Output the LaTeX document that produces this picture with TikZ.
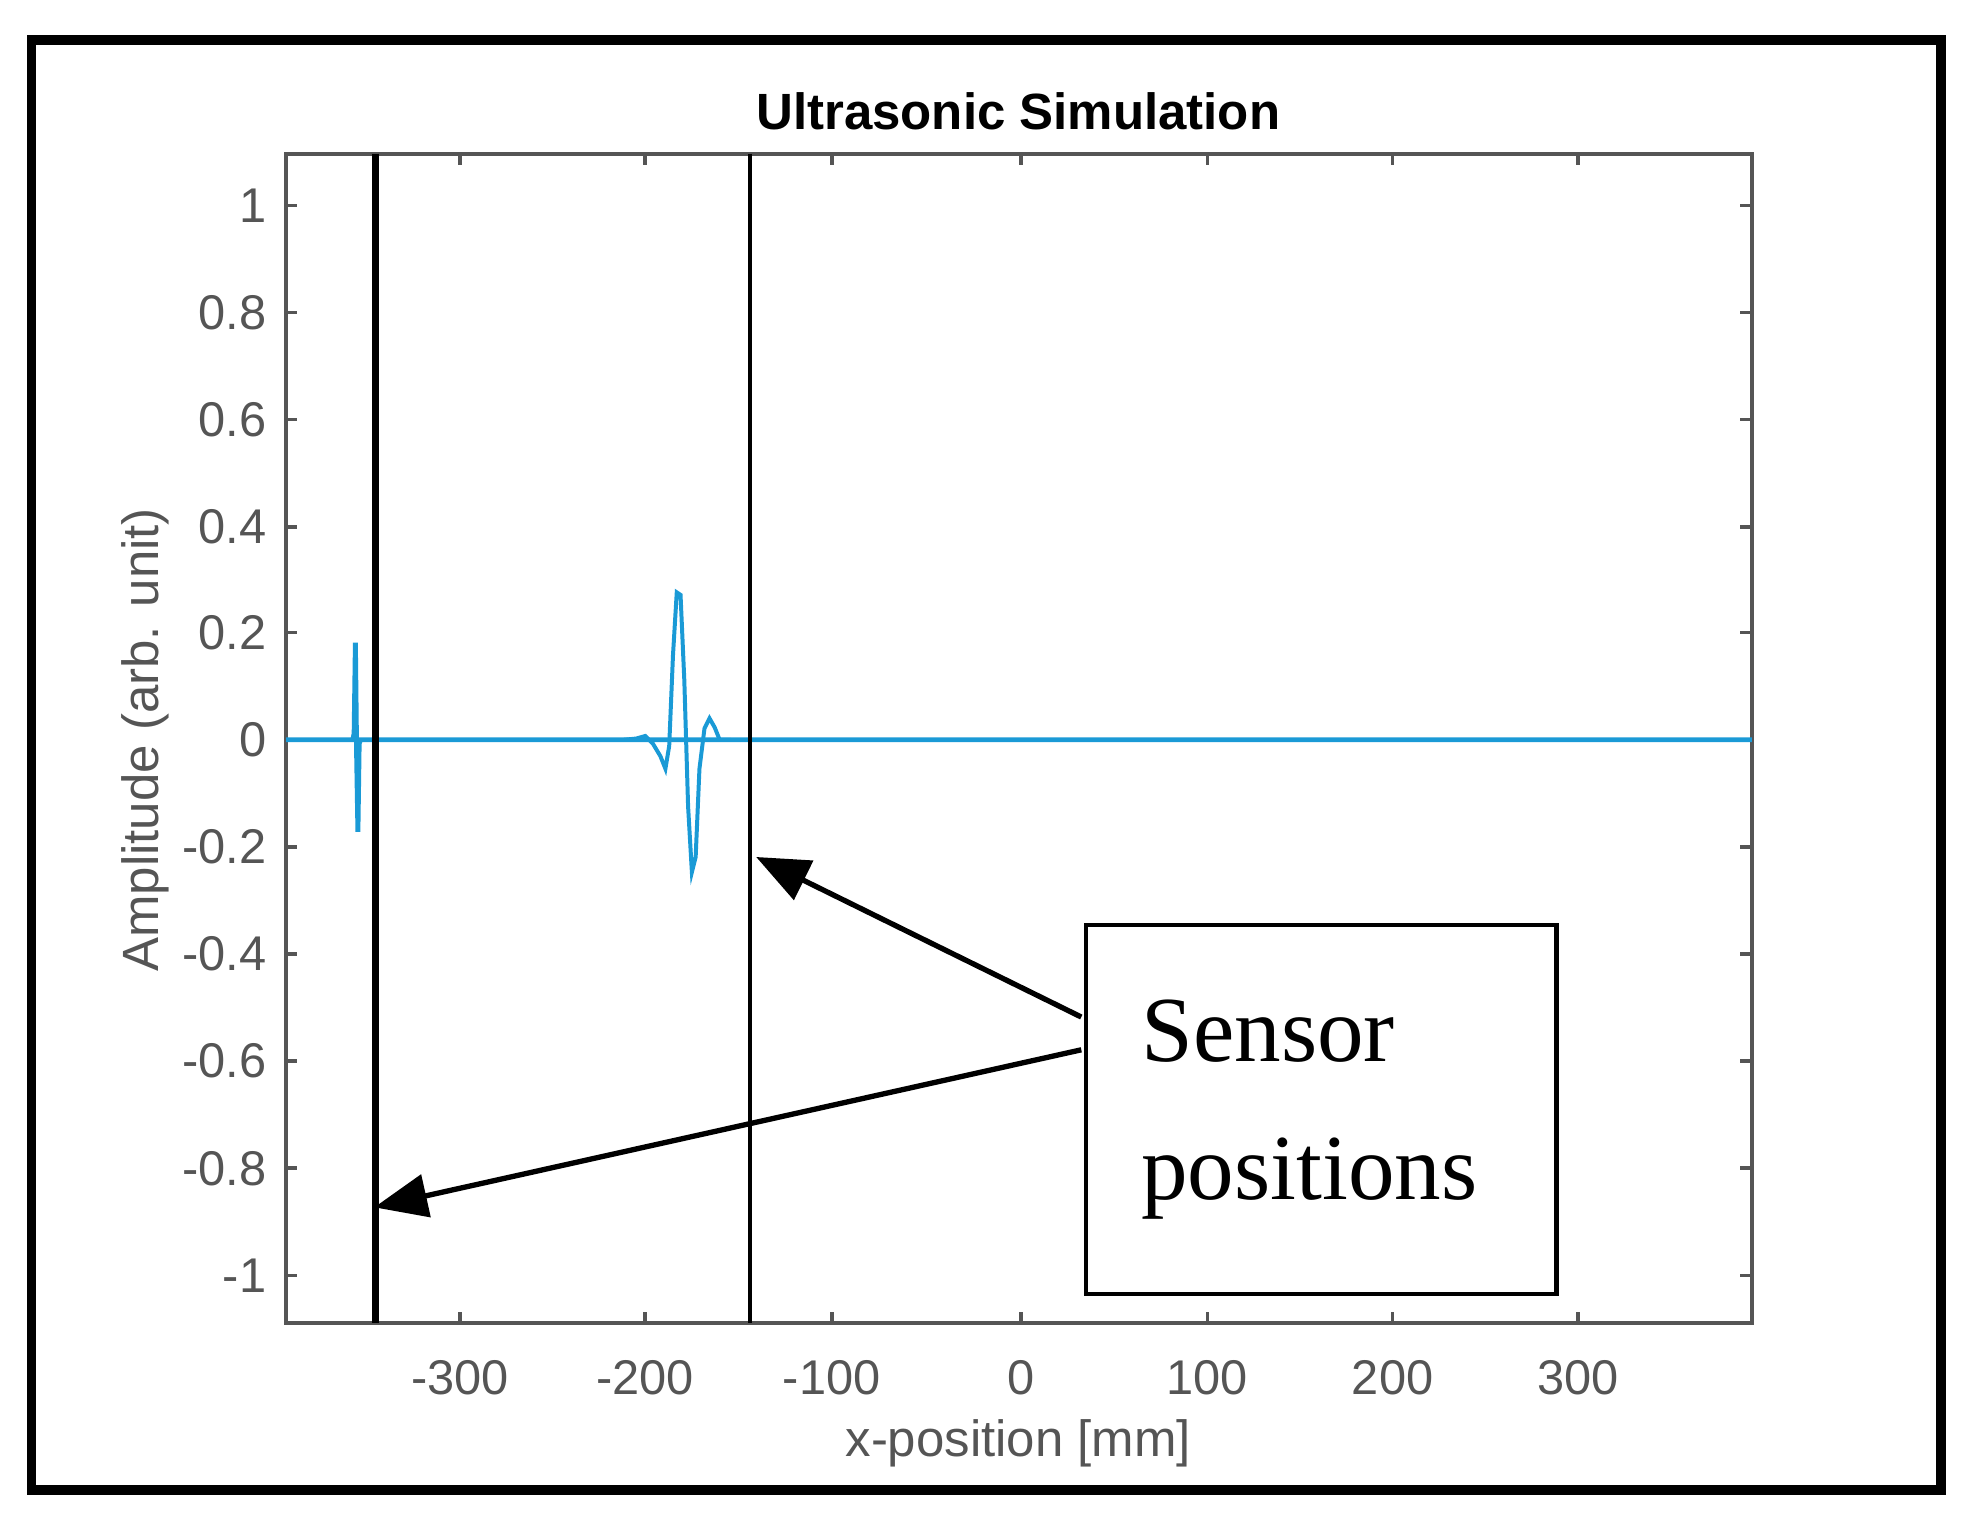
\documentclass[tikz,border=0pt]{standalone}
\usepackage{fontspec}
\setmainfont{Liberation Sans}
\newfontfamily\serifx{Liberation Serif}
\usetikzlibrary{arrows.meta}
\definecolor{axgray}{HTML}{555555}
\definecolor{sig}{HTML}{1A9AD6}
\begin{document}
\begin{tikzpicture}[x=0.01cm,y=-0.01cm,
  ticklab/.style={text=axgray,font=\fontsize{11}{13}\selectfont,inner sep=0pt},
  annarrow/.style={draw=black,line width=1.2pt,-{Triangle[length=0.42cm,width=0.34cm]}},
  sensor/.style={line width=1pt,black}]
\useasboundingbox (0,0) rectangle (1560,1200);
\draw[line width=2.2pt] (25,32) rectangle (1540,1182);
% axes
\draw[axgray,line width=1pt] (227,122) rectangle (1390,1050);
\foreach \v/\px in {-300/365,-200/512,-100/660,0/810,100/958,200/1105,300/1252}{
  \draw[axgray,line width=0.8pt] (\px,1050) -- (\px,1041) (\px,122) -- (\px,131);
  \node[ticklab] at (\px,1093) {\v};}
\foreach \v/\py in {1/163,0.8/248,0.6/333,0.4/418,0.2/502,0/587,-0.2/672,-0.4/757,-0.6/842,-0.8/927,-1/1012}{
  \draw[axgray,line width=0.8pt] (227,\py) -- (236,\py) (1390,\py) -- (1381,\py);
  \node[ticklab,anchor=east] at (212,\py) {\v};}
\node[text=axgray,font=\fontsize{11.5}{13}\selectfont] (xl) at (808,1145) {x-position [mm]};
\node[text=axgray,font=\fontsize{11.5}{13}\selectfont,rotate=90] (yl) at (115,587) {Amplitude (arb. unit)};
\node[font=\bfseries\fontsize{11.5}{13}\selectfont] (title) at (808,88) {Ultrasonic Simulation};
% signal
\draw[sig,line width=1.1pt] (227,587) -- (280,587) -- (281,582) -- (282,510) -- (283,600) -- (284,660) -- (285,590) -- (286,587) -- (1390,587);
\draw[sig,line width=0.9pt] (495,587) -- (505,586) -- (512,584) -- (518,590) -- (524,600) -- (528,610) -- (531,592) -- (534,520) -- (537,470) -- (540,472) -- (543,540) -- (546,640) -- (549,692) -- (552,680) -- (555,610) -- (559,578) -- (563,570) -- (567,577) -- (571,587) -- (580,587);
% sensor lines
\coordinate (s1t) at (298,122); \coordinate (s1b) at (298,1050);
\coordinate (s2t) at (595,122); \coordinate (s2b) at (595,1050);
\draw[sensor,line width=1.6pt] (s1t) -- (s1b);
\draw[sensor] (s2t) -- (s2b);
% box
\node[draw,line width=1pt,minimum width=3.73cm,minimum height=2.93cm,anchor=north west,inner sep=0pt] (box) at (860,732) {};
\node[font=\serifx\fontsize{21}{25}\selectfont,anchor=base west,inner sep=0pt] (t1) at (905,842) {Sensor};
\node[font=\serifx\fontsize{21}{25}\selectfont,anchor=base west,inner sep=0pt] (t2) at (905,952) {positions};
\coordinate (a1) at (600,680);
\coordinate (a2) at (297,958);
\draw[annarrow] (858,807) -- (a1);
\draw[annarrow] (858,833) -- (a2);
\end{tikzpicture}
\end{document}
